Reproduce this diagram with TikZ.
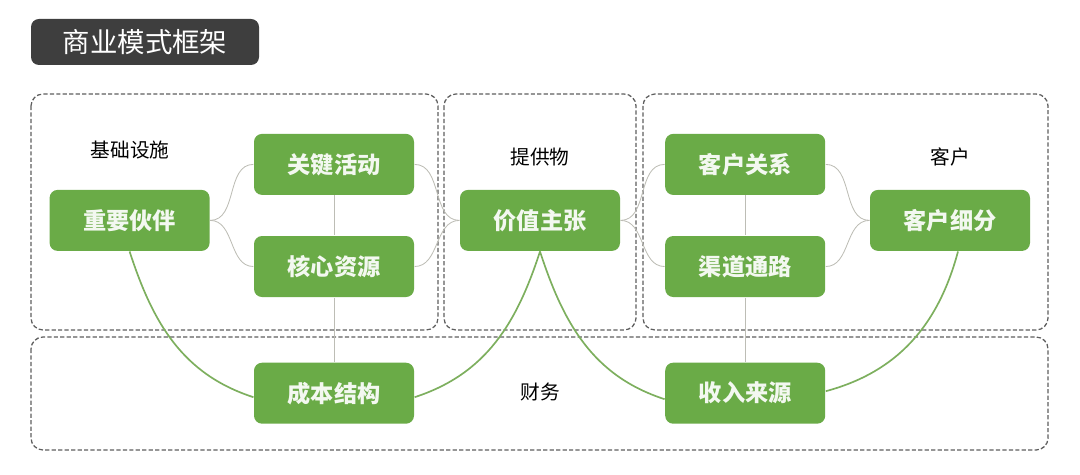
\documentclass[tikz,border=0pt]{standalone}
\usepackage{fontspec}
\setmainfont{Noto Sans CJK SC}
\usepackage{xcolor}
\usepackage{tikz}
\usetikzlibrary{positioning}

\definecolor{leaf}{HTML}{6AAB47}
\definecolor{vine}{HTML}{7DAF5E}
\definecolor{twig}{HTML}{BDBDB5}
\definecolor{frame}{HTML}{5E5E5E}
\definecolor{slate}{HTML}{3E3E3E}

\begin{document}
\begin{tikzpicture}[node distance=1cm, thick]
    % Styles
    \tikzstyle{block} = [rectangle, fill=leaf, text=white!92!leaf, minimum width=4cm, minimum height=1.525cm, rounded corners=0.2cm, inner sep=0pt, font=\bfseries\fontsize{16.5}{18}\selectfont]
    \tikzstyle{group} = [draw=frame, dashed, dash pattern=on 3pt off 1.6pt, line width=0.9pt, rounded corners=0.3cm]
    \tikzstyle{tag} = [text=black, font=\fontsize{14}{16}\selectfont]
    \tikzstyle{twigline} = [draw=twig, line width=0.6pt]
    \tikzstyle{vineline} = [draw=vine, line width=1.2pt]

    \useasboundingbox (0,0) rectangle (27,-11.875);

    % Title
    \node [fill=slate, text=white, rounded corners=0.2cm, minimum width=5.7cm, minimum height=1.15cm, font=\fontsize{19.5}{22}\selectfont] (title) at (3.625,-1.05) {商业模式框架};

    % Groups
    \draw [group] (0.775,-2.35) rectangle (10.95,-8.25);
    \draw [group] (11.1,-2.35) rectangle (15.9,-8.25);
    \draw [group] (16.075,-2.35) rectangle (26.2,-8.25);
    \draw [group] (0.775,-8.425) rectangle (26.2,-11.25);

    % Nodes
    \node [block] (partner) at (3.24,-5.51) {重要伙伴};
    \node [block] (activity) at (8.35,-4.11) {关键活动};
    \node [block, below=of activity] (resource) {核心资源};
    \node [block] (value) at (13.5,-5.51) {价值主张};
    \node [block] (relation) at (18.63,-4.11) {客户关系};
    \node [block, below=of relation] (channel) {渠道通路};
    \node [block] (segment) at (23.75,-5.51) {客户细分};
    \node [block] (cost) at (8.35,-9.83) {成本结构};
    \node [block] (revenue) at (18.63,-9.83) {收入来源};

    % Labels
    \node [tag] (infra) at (3.25,-3.75) {基础设施};
    \node [tag] (offer) at (13.5,-3.925) {提供物};
    \node [tag] (client) at (23.75,-3.925) {客户};
    \node [tag] (money) at (13.5,-9.8) {财务};

    % Edges
    \draw [twigline] (partner.east) to [out=0, in=180] (activity.west);
    \draw [twigline] (partner.east) to [out=0, in=180] (resource.west);
    \draw [twigline] (activity.east) to [out=0, in=180] (value.west);
    \draw [twigline] (resource.east) to [out=0, in=180] (value.west);
    \draw [twigline] (value.east) to [out=0, in=180] (relation.west);
    \draw [twigline] (value.east) to [out=0, in=180] (channel.west);
    \draw [twigline] (relation.east) to [out=0, in=180] (segment.west);
    \draw [twigline] (channel.east) to [out=0, in=180] (segment.west);
    \draw [twigline] (activity) -- (resource);
    \draw [twigline] (resource) -- (cost);
    \draw [twigline] (relation) -- (channel);
    \draw [twigline] (channel) -- (revenue);

    \draw [vineline] (partner.south) to [out=-72, in=162] ([yshift=-0.1cm]cost.west);
    \draw [vineline] (value.south) to [out=-108, in=18] ([yshift=-0.1cm]cost.east);
    \draw [vineline] (value.south) to [out=-72, in=162] ([yshift=-0.15cm]revenue.west);
    \draw [vineline] ([xshift=0.2cm]segment.south) to [out=-105, in=15] ([yshift=0.05cm]revenue.east);
\end{tikzpicture}
\end{document}
